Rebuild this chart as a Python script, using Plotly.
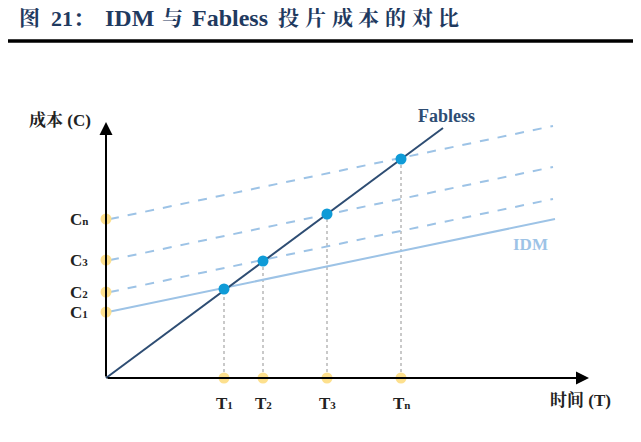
import plotly.graph_objects as go

# ---- data (arbitrary cost/time units) ----
c_names = ["C", "C", "C", "C"]
c_subs = ["1", "2", "3", "n"]
c_values = [6.6, 8.6, 11.8, 15.9]
t_names = ["T", "T", "T", "T"]
t_subs = ["1", "2", "3", "n"]
t_values = [11.8, 15.7, 22.1, 29.5]
cross_costs = [8.9, 11.7, 16.4, 21.9]
fabless_x = [0.0, 33.7]
fabless_y = [0.0, 25.0]
idm_x = [0.2, 44.9]
idm_y = [6.6, 15.9]
dash_x = [0.4, 44.7]
dash_rise = 9.3
x_axis_end = 48.3
y_axis_end = 25.6

title_pieces = ["图", "21：", "IDM", "与", "Fabless", "投", "片", "成", "本", "的", "对", "比"]
title_lefts = [17, 49, 103, 160, 190, 276, 303, 330, 356, 383, 410, 436]
title_sizes = [21, 22, 24, 21, 24, 21, 21, 21, 21, 21, 21, 21]

NAVY = "#2e4d73"
LIGHT = "#9dc3e6"
DOT_BLUE = "#0f9bd7"
YELLOW = "#fde08e"
TITLE_C = "#1f3a60"
SERIF = "Liberation Serif, Times New Roman, Noto Serif CJK SC, Noto Sans CJK SC, serif"

W, H, OFF = 641, 442, 8  # page body margin offset


def px(xp):
    return (xp - OFF) / W


def py(yp):
    return 1 - (yp - OFF) / H


def sub_label(name, sub):
    return "<b>" + name + "<span style='font-size:11px'>" + sub + "</span></b>"


fig = go.Figure()

# dotted verticals from intersections
for t, c in zip(t_values, cross_costs):
    fig.add_trace(go.Scatter(x=[t, t], y=[0, c], mode="lines",
                             line=dict(color="#c9c9c9", width=2, dash="dot"),
                             hoverinfo="skip", showlegend=False))

# dashed cost lines (C2, C3, Cn)
for c in c_values[1:]:
    fig.add_trace(go.Scatter(x=dash_x, y=[c, c + dash_rise], mode="lines",
                             line=dict(color=LIGHT, width=2, dash="dash"),
                             hoverinfo="skip", showlegend=False))

# IDM line
fig.add_trace(go.Scatter(x=idm_x, y=idm_y, mode="lines",
                         line=dict(color=LIGHT, width=2), showlegend=False))
# Fabless line
fig.add_trace(go.Scatter(x=fabless_x, y=fabless_y, mode="lines",
                         line=dict(color=NAVY, width=2), showlegend=False))

# axes with arrows
fig.add_annotation(x=x_axis_end, y=0, ax=0, ay=0, xref="x", yref="y", axref="x", ayref="y",
                   showarrow=True, arrowhead=2, arrowsize=1.3, arrowwidth=2, arrowcolor="black", text="")
fig.add_annotation(x=0, y=y_axis_end, ax=0, ay=0, xref="x", yref="y", axref="x", ayref="y",
                   showarrow=True, arrowhead=2, arrowsize=1.3, arrowwidth=2, arrowcolor="black", text="")

# yellow dots on axes
fig.add_trace(go.Scatter(x=[0] * len(c_values), y=c_values, mode="markers",
                         marker=dict(color=YELLOW, size=11), showlegend=False))
fig.add_trace(go.Scatter(x=t_values, y=[0] * len(t_values), mode="markers",
                         marker=dict(color=YELLOW, size=11), showlegend=False))
# blue intersection dots
fig.add_trace(go.Scatter(x=t_values, y=cross_costs, mode="markers",
                         marker=dict(color=DOT_BLUE, size=11), showlegend=False))

# tick labels
for n, s, c in zip(c_names, c_subs, c_values):
    fig.add_annotation(x=-1.6, y=c, text=sub_label(n, s), showarrow=False,
                       xanchor="right", yanchor="middle",
                       font=dict(family=SERIF, size=17, color="#222222"))
for n, s, t in zip(t_names, t_subs, t_values):
    fig.add_annotation(x=t, y=-2.5, text=sub_label(n, s), showarrow=False,
                       xanchor="center", yanchor="middle",
                       font=dict(family=SERIF, size=17, color="#222222"))

# axis titles
fig.add_annotation(x=-4.6, y=25.8, text="<b>成本 (C)</b>", showarrow=False,
                   xanchor="center", yanchor="middle",
                   font=dict(family=SERIF, size=17, color="#222222"))
fig.add_annotation(x=47.4, y=-2.2, text="<b>时间 (T)</b>", showarrow=False,
                   xanchor="center", yanchor="middle",
                   font=dict(family=SERIF, size=17, color="#222222"))

# series labels
fig.add_annotation(x=34.0, y=26.2, text="<b>Fabless</b>", showarrow=False,
                   xanchor="center", yanchor="middle",
                   font=dict(family=SERIF, size=18, color=NAVY))
fig.add_annotation(x=42.4, y=13.4, text="<b>IDM</b>", showarrow=False,
                   xanchor="center", yanchor="middle",
                   font=dict(family=SERIF, size=17, color=LIGHT))

# title (letter-spaced, as in the reference) and rule
for piece, lx, fs in zip(title_pieces, title_lefts, title_sizes):
    fig.add_annotation(x=px(lx), y=py(18), xref="paper", yref="paper",
                       text="<b>" + piece + "</b>", showarrow=False,
                       xanchor="left", yanchor="middle",
                       font=dict(family=SERIF, size=fs, color=TITLE_C))
fig.add_shape(type="line", xref="paper", yref="paper",
              x0=0, x1=1, y0=py(41), y1=py(41),
              line=dict(color="black", width=3.5))

fig.update_layout(
    width=W, height=H,
    margin=dict(l=0, r=0, t=0, b=0),
    paper_bgcolor="white", plot_bgcolor="white",
    xaxis=dict(range=[(OFF - 106) / 10, (OFF + W - 106) / 10], visible=False, fixedrange=True),
    yaxis=dict(range=[(378 - OFF - H) / 10, (378 - OFF) / 10], visible=False, fixedrange=True),
    showlegend=False,
)

fig.write_html("out.html")
